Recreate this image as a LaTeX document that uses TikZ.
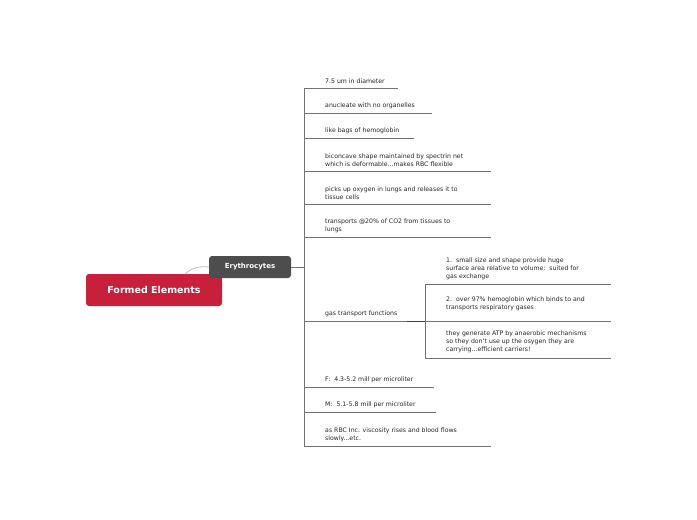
\documentclass[tikz,border=0pt]{standalone}
\usepackage{fontspec}
\setmainfont{DejaVu Sans}
\begin{document}
\begin{tikzpicture}[x=1pt,y=-1pt,
  item/.style={anchor=south west,inner sep=0pt,align=left,font=\fontsize{6.2}{8.2}\selectfont,text=black!85},
  ln/.style={draw=black!55,line width=0.6pt}]
\useasboundingbox (0,0) rectangle (697,520);
\node[fill={rgb,255:red,200;green,32;blue,58},rounded corners=3pt,minimum width=136pt,minimum height=32pt,inner sep=0pt,text=white,font=\bfseries\fontsize{9.5}{11}\selectfont] (fe) at (154,290) {Formed Elements};
\node[fill={rgb,255:red,77;green,77;blue,77},rounded corners=3pt,minimum width=82pt,minimum height=22pt,inner sep=0pt,text=white,font=\bfseries\fontsize{7}{8}\selectfont] (ery) at (250,267) {Erythrocytes};
\draw[draw=black!25,line width=0.8pt] (185,274) .. controls (192,268) and (198,266) .. (ery.west);
\coordinate (t) at (304,88); \coordinate (b) at (304,446);
\draw[ln] (ery.east) -- (304,267);
\draw[ln] (t) -- (b);
\foreach \y/\e/\txt in {88/398/{7.5 um in diameter},113/432/{anucleate with no organelles},138/414/{like bags of hemoglobin},171/491/{biconcave shape maintained by spectrin net\\which is deformable...makes RBC flexible},204/491/{picks up oxygen in lungs and releases it to\\tissue cells},237/491/{transports @20\% of CO2 from tissues to\\lungs},321/407/{gas transport functions},387/434/{F:\ \ 4.3-5.2 mill per microliter},412/436/{M:\ \ 5.1-5.8 mill per microliter},446/491/{as RBC Inc. viscosity rises and blood flows\\slowly...etc.}}
{\draw[ln] (304,\y) -- (\e,\y); \node[item] at (325,\y-4) {\txt};}
\coordinate (g) at (425,321);
\draw[draw=black!75,line width=0.8pt] (407,321) -- (g);
\draw[ln] (425,284) -- (425,358);
\foreach \y/\o/\txt in {284/4/{1.\ \ small size and shape provide huge\\surface area relative to volume:\ \ suited for\\gas exchange},321/10/{2.\ \ over 97\% hemoglobin which binds to and\\transports respiratory gases},358/5/{they generate ATP by anaerobic mechanisms\\so they don't use up the osygen they are\\carrying...efficient carriers!}}
{\draw[ln] (425,\y) -- (611,\y); \node[item] at (446,\y-\o) {\txt};}
\end{tikzpicture}
\end{document}
